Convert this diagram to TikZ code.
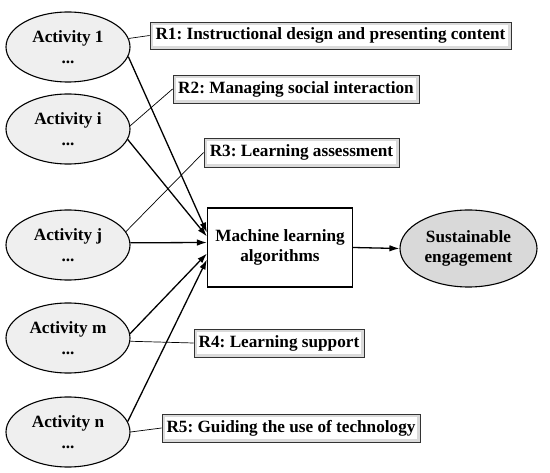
\documentclass[tikz,border=0pt]{standalone}
\usepackage{fontspec}
\setmainfont{Liberation Serif}
\usetikzlibrary{arrows.meta,shapes.geometric}
\definecolor{actfill}{HTML}{EFEFEF}
\definecolor{sefill}{HTML}{D9D9D9}
\definecolor{rband}{HTML}{DADADA}
\frenchspacing
\begin{document}
\begin{tikzpicture}[x=1pt,y=-1pt,
  every node/.style={font=\fontsize{17.2}{20.5}\selectfont\bfseries, align=center},
  act/.style={ellipse, draw=black, line width=1.1pt, fill=actfill, minimum width=124pt, minimum height=70pt, inner sep=0pt},
  goal/.style={ellipse, draw=black, line width=1.1pt, fill=sefill, minimum width=137pt, minimum height=77pt, inner sep=0pt},
  mlbox/.style={rectangle, draw=black, line width=1.1pt, fill=white, minimum width=145pt, minimum height=79pt, inner sep=0pt},
  rbox/.style={rectangle, draw=black!80, line width=0.9pt, fill=rband, inner sep=0pt, minimum height=28pt,
    path picture={\fill[white] ([shift={(2.6pt,-2.6pt)}]path picture bounding box.north west) rectangle ([shift={(-2.6pt,2.6pt)}]path picture bounding box.south east);}},
  thin/.style={draw=black, line width=0.7pt},
  arr/.style={draw=black, line width=1.3pt, -{Latex[length=10pt,width=6.5pt]}}
]
\useasboundingbox (0,0) rectangle (550,473);

\node[act] (a1) at (68,47) {Activity 1\\...};
\node[act] (ai) at (68,129) {Activity i\\...};
\node[act] (aj) at (68,245) {Activity j\\...};
\node[act] (am) at (68,338) {Activity m\\...};
\node[act] (an) at (68,432) {Activity n\\...};

\node[mlbox] (ml) at (280,247.5) {Machine learning\\algorithms};
\node[goal] (se) at (468.5,248.5) {Sustainable\\engagement};

\node[rbox, minimum width=361pt, minimum height=27pt] (r1) at (330.5,35.5) {R1: Instructional design and presenting content};
\node[rbox, minimum width=246pt] (r2) at (296,89) {R2: Managing social interaction};
\node[rbox, minimum width=195pt, minimum height=29pt] (r3) at (301.5,152.5) {R3: Learning assessment};
\node[rbox, minimum width=170pt] (r4) at (279,343) {R4: Learning support};
\node[rbox, minimum width=258pt] (r5) at (291,428) {R5: Guiding the use of technology};

\draw[thin] (a1.8) -- (r1.west);
\draw[thin] (ai.3) -- (r2.west);
\draw[thin] (aj.13) -- (r3.west);
\draw[thin] (am.-3) -- (r4.west);
\draw[thin] (an.0) -- (r5.west);

\draw[arr] (a1.-9) -- ([yshift=15pt]ml.west);
\draw[arr] (ai.-10) -- ([yshift=11pt]ml.west);
\draw[arr] (aj.2) -- ([yshift=5pt]ml.west);
\draw[arr] (am.4) -- ([yshift=-6pt]ml.west);
\draw[arr] (an.10) -- ([yshift=-12pt]ml.west);
\draw[arr] (ml.east) -- (se.west);
\end{tikzpicture}
\end{document}
